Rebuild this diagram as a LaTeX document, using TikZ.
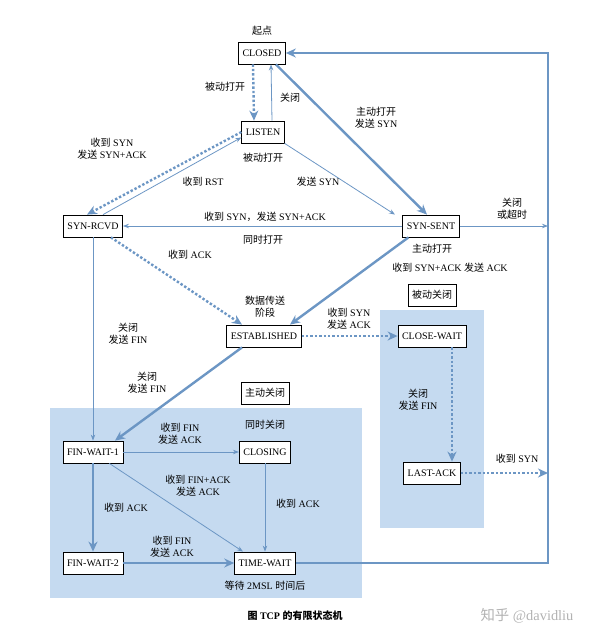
\documentclass[tikz,border=0pt]{standalone}
\usepackage{fontspec}
\setmainfont{Liberation Serif}
\newfontfamily\cjk{Noto Sans CJK SC}
\newcommand{\zh}[1]{{\cjk #1}}
\usetikzlibrary{arrows.meta}
\definecolor{lineblue}{RGB}{108,150,196}
\definecolor{areablue}{RGB}{197,218,240}
\tikzset{
  state/.style={draw, thick, fill=white, minimum height=22pt, inner sep=4pt, font=\normalsize},
  lbl/.style={font=\normalsize, align=center, inner sep=1pt},
  thinln/.style={draw=lineblue, line width=0.8pt, -{Stealth[length=6pt]}},
  thickln/.style={draw=lineblue, line width=2.4pt, -{Stealth[length=10pt,width=9pt]}},
  dotln/.style={draw=lineblue, line width=2.4pt, dotted, -{Stealth[length=10pt,width=9pt]}}
}
\begin{document}
\begin{tikzpicture}[x=1pt, y=-1pt]
    \useasboundingbox (0,0) rectangle (600,638);
    % shaded areas
    \fill [areablue] (50,408) rectangle (362,598);
    \fill [areablue] (380,310) rectangle (484,528);

    % states
    \node [state] (closed) at (262,53) {CLOSED};
    \node [state] (listen) at (263,132) {LISTEN};
    \node [state] (rcvd) at (93,226) {SYN-RCVD};
    \node [state] (sent) at (431,226) {SYN-SENT};
    \node [state] (est) at (264,336) {ESTABLISHED};
    \node [state] (cwait) at (432,336) {CLOSE-WAIT};
    \node [state] (lack) at (432,473) {LAST-ACK};
    \node [state] (fw1) at (93,452) {FIN-WAIT-1};
    \node [state] (closing) at (265,452) {CLOSING};
    \node [state] (fw2) at (93,563) {FIN-WAIT-2};
    \node [state] (tw) at (265,563) {TIME-WAIT};
    \node [state, font=\cjk] (pclose) at (432,295) {被动关闭};
    \node [state, font=\cjk] (aclose) at (265,393) {主动关闭};
    \coordinate (timeout) at (548,226);
    \coordinate (synend) at (548,473);
    \coordinate (corner) at (548,53);

    % connectors
    \draw [dotln] ([xshift=-9pt]closed.south) -- ([xshift=-9pt]listen.north);
    \draw [thinln] ([xshift=9pt]listen.north) -- ([xshift=9pt]closed.south);
    \draw [thickln] ([xshift=-10pt]closed.south east) -- ([xshift=-4pt]sent.north);
    \draw [dotln] (listen.west) -- ([xshift=-6pt]rcvd.north);
    \draw [thinln] ([xshift=10pt]rcvd.north) -- ([yshift=6pt]listen.south west);
    \draw [thinln] (listen.south east) -- ([xshift=-36pt]sent.north);
    \draw [thinln] (sent.west) -- (rcvd.east);
    \draw [thinln] (sent.east) -- (timeout);
    \draw [dotln] ([xshift=-12pt]rcvd.south east) -- ([xshift=-22pt]est.north);
    \draw [thickln] ([xshift=6pt]sent.south west) -- ([xshift=26pt]est.north);
    \draw [dotln] (est.east) -- (cwait.west);
    \draw [dotln] ([xshift=20pt]cwait.south) -- ([xshift=20pt]lack.north);
    \draw [dotln] (lack.east) -- (synend);
    \draw [thinln] (rcvd.south) -- (fw1.north);
    \draw [thickln] ([xshift=-22pt]est.south) -- ([xshift=22pt]fw1.north);
    \draw [thinln] (fw1.east) -- (closing.west);
    \draw [thinln] ([xshift=-14pt]fw1.south east) -- ([xshift=-22pt]tw.north);
    \draw [thickln] (fw1.south) -- (fw2.north);
    \draw [thinln] (closing.south) -- (tw.north);
    \draw [thickln] (fw2.east) -- (tw.west);
    \draw [thickln] (tw.east) -- (tw.east -| corner) -- (corner) -- (closed.east);

    % labels
    \node [lbl] (start) at (262,31) {\zh{起点}};
    \node [lbl] at (225,87) {\zh{被动打开}};
    \node [lbl] at (290,98) {\zh{关闭}};
    \node [lbl] at (376,118) {\zh{主动打开}\\\zh{发送} SYN};
    \node [lbl] at (112,149) {\zh{收到}\ SYN\\\zh{发送}\ SYN+ACK};
    \node [lbl] at (263,158) {\zh{被动打开}};
    \node [lbl] at (203,182) {\zh{收到}\ RST};
    \node [lbl] at (318,182) {\zh{发送}\ SYN};
    \node [lbl] at (265,217) {\zh{收到}\ SYN\zh{，发送}\ SYN+ACK};
    \node [lbl] at (263,240) {\zh{同时打开}};
    \node [lbl] at (512,209) {\zh{关闭}\\\zh{或超时}};
    \node [lbl] at (190,255) {\zh{收到}\ ACK};
    \node [lbl] at (432,249) {\zh{主动打开}};
    \node [lbl] at (450,268) {\zh{收到}\ SYN+ACK\ \zh{发送}\ ACK};
    \node [lbl] at (265,307) {\zh{数据传送}\\\zh{阶段}};
    \node [lbl] at (349,319) {\zh{收到}\ SYN\\\zh{发送}\ ACK};
    \node [lbl] at (418,400) {\zh{关闭}\\\zh{发送}\ FIN};
    \node [lbl] at (517,459) {\zh{收到}\ SYN};
    \node [lbl] at (128,334) {\zh{关闭}\\\zh{发送}\ FIN};
    \node [lbl] at (147,383) {\zh{关闭}\\\zh{发送}\ FIN};
    \node [lbl] at (180,434) {\zh{收到}\ FIN\\\zh{发送}\ ACK};
    \node [lbl] at (265,425) {\zh{同时关闭}};
    \node [lbl] at (198,486) {\zh{收到}\ FIN+ACK\\\zh{发送}\ ACK};
    \node [lbl] at (126,508) {\zh{收到}\ ACK};
    \node [lbl] at (298,504) {\zh{收到}\ ACK};
    \node [lbl] at (172,547) {\zh{收到}\ FIN\\\zh{发送}\ ACK};
    \node [lbl] at (265,586) {\zh{等待}\ 2MSL\ \zh{时间后}};
    \node [lbl, font=\bfseries] (caption) at (295,616) {\zh{图}\ TCP\ \zh{的有限状态机}};
    \node [lbl, font=\Large, text=gray!60] (mark) at (527,616) {\zh{知乎}\ @davidliu};
\end{tikzpicture}
\end{document}
